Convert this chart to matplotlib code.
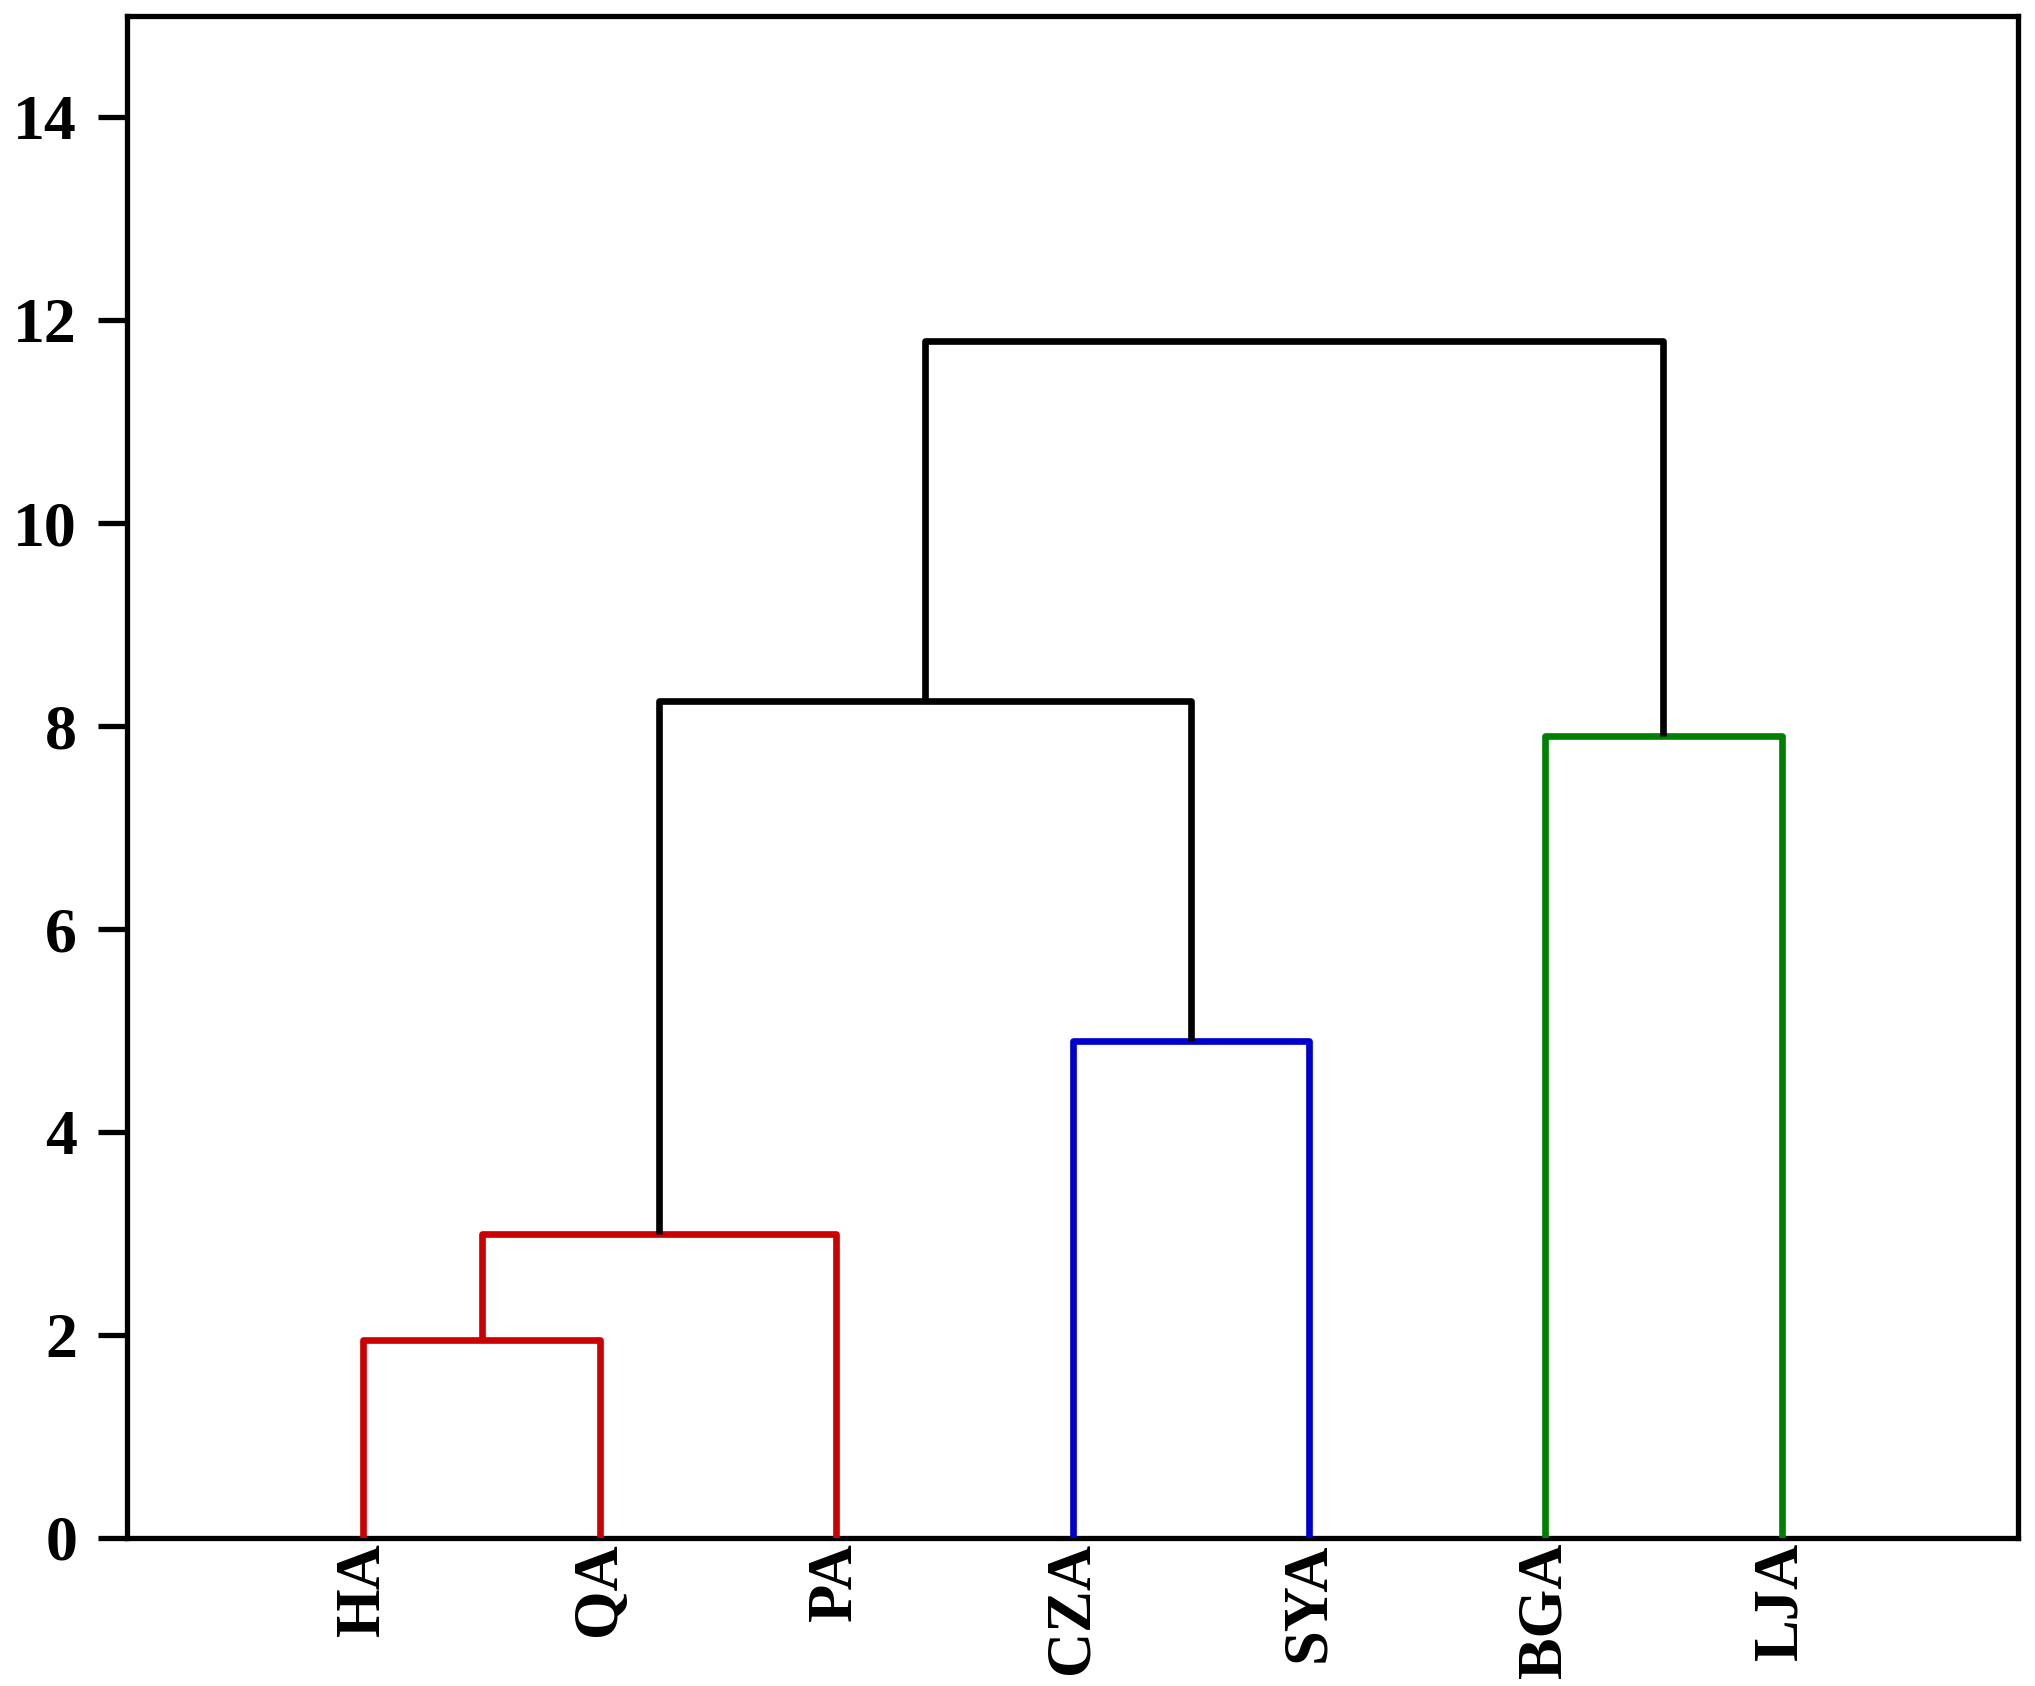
import matplotlib
matplotlib.use("Agg")
import matplotlib.pyplot as plt

# Leaf labels in dendrogram order
leaves = ["HA", "QA", "PA", "CZA", "SYA", "BGA", "LJA"]

# Merges: (left child, right child, height, colour)
# children: leaf index (int) or "c<k>" for the k-th merge
merge_left = [0, "c0", 3, 5, "c1", "c4"]
merge_right = [1, 2, 4, 6, "c2", "c3"]
merge_height = [1.95, 3.0, 4.9, 7.9, 8.25, 11.8]
merge_color = ["#cc0000", "#cc0000", "#0000cc", "#008000", "black", "black"]

yticks = [0, 2, 4, 6, 8, 10, 12, 14]

plt.rcParams['font.family'] = ['Liberation Serif', 'DejaVu Serif']
plt.rcParams['font.weight'] = 'bold'

fig = plt.figure(figsize=(20.35, 16.86), dpi=100)
ax = fig.add_axes([127 / 2035, 1 - 1538 / 1686, (2018 - 127) / 2035, (1538 - 16) / 1686])

pos = {}
hgt = {}
for i, _ in enumerate(leaves):
    pos[i] = i + 1
    hgt[i] = 0.0

for k, (l, r, h, col) in enumerate(zip(merge_left, merge_right, merge_height, merge_color)):
    xl, xr = pos[l], pos[r]
    yl, yr = hgt[l], hgt[r]
    ax.plot([xl, xl, xr, xr], [yl, h, h, yr], color=col, lw=4.8,
            solid_joinstyle='round', solid_capstyle='butt', zorder=3)
    name = "c%d" % k
    pos[name] = (xl + xr) / 2
    hgt[name] = h

ax.set_xlim(0, len(leaves) + 1)
ax.set_ylim(0, 15)
ax.set_xticks(range(1, len(leaves) + 1))
ax.set_xticklabels(leaves, rotation=90, fontsize=45, fontweight='bold', va='top')
ax.set_yticks(yticks)
ax.set_yticklabels([str(t) for t in yticks], fontsize=46, fontweight='bold')
ax.tick_params(axis='x', length=0, pad=3)
ax.tick_params(axis='y', direction='out', length=21, width=3.8, pad=15)
for s in ax.spines.values():
    s.set_linewidth(3.8)

fig.savefig("out.png", dpi=100)
